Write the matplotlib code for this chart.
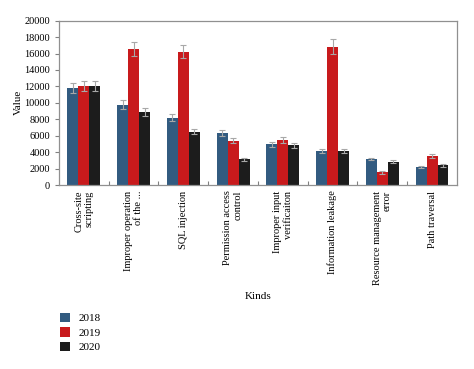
import matplotlib.pyplot as plt
import numpy as np
from matplotlib.patches import Patch

plt.rcParams['font.family'] = ['Liberation Serif', 'DejaVu Serif']

kinds = ['Cross-site\nscripting', 'Improper operation\nof the ...', 'SQL injection',
         'Permission access\ncontrol', 'Improper input\nverificaiton',
         'Information leakage', 'Resource management\nerror', 'Path traversal']
years = ['2018', '2019', '2020']
v2018 = [11800, 9750, 8200, 6300, 4950, 4150, 3150, 2200]
v2019 = [12000, 16500, 16200, 5400, 5500, 16850, 1550, 3550]
v2020 = [12000, 8850, 6500, 3150, 4850, 4150, 2850, 2400]
e2018 = [600, 550, 450, 350, 280, 280, 160, 160]
e2019 = [600, 850, 800, 330, 350, 880, 150, 230]
e2020 = [600, 480, 350, 180, 320, 280, 150, 150]

colors = ['#325b80', '#c81a1c', '#1c1c1c']
values = [v2018, v2019, v2020]
errors = [e2018, e2019, e2020]

fig = plt.figure(figsize=(4.74, 3.69), dpi=100)
ax = fig.add_axes([0.1245, 0.4986, 0.8395, 0.4454])

x = np.arange(len(kinds))
w = 0.22
for i in range(3):
    ax.bar(x + (i - 1) * w, values[i], w, color=colors[i],
           yerr=errors[i], ecolor='#a8a8a8', capsize=2.5,
           error_kw={'elinewidth': 0.8, 'capthick': 0.8})

ax.set_xlim(-0.5, len(kinds) - 0.5)
ax.set_ylim(0, 20000)
ax.set_yticks(np.arange(0, 20001, 2000))
ax.set_xticks(x)
ax.set_xticklabels(kinds, rotation=90, ha='center', va='top',
                   multialignment='right', fontsize=7.5)
ax.set_xticks(x[:-1] + 0.5, minor=True)
ax.tick_params(axis='x', which='major', length=0, pad=4)
ax.tick_params(axis='x', which='minor', length=3, direction='in',
               color='#808080', width=0.8)
ax.tick_params(axis='y', labelsize=7.5, length=3, color='#808080', width=0.8)
for s in ax.spines.values():
    s.set_color('#909090')
    s.set_linewidth(0.9)

ax.set_ylabel('Value', fontsize=8, labelpad=1)
ax.set_xlabel('Kinds', fontsize=8, labelpad=5)

handles = [Patch(facecolor=c, label=y) for c, y in zip(colors, years)]
fig.legend(handles=handles, loc='upper left', bbox_to_anchor=(0.105, 0.179),
           frameon=False, fontsize=8, handlelength=0.9, handleheight=0.9,
           handletextpad=0.8, labelspacing=0.35)

fig.savefig('out.png', dpi=100)
